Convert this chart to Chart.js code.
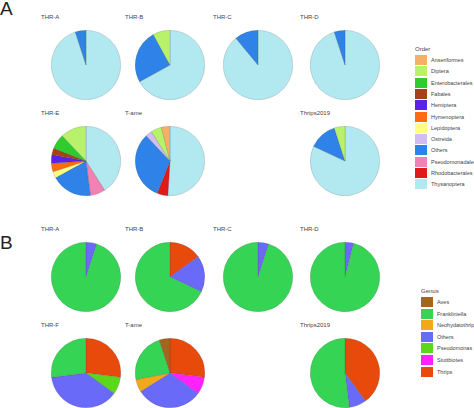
<!DOCTYPE html>
<html><head><meta charset="utf-8">
<script src="https://cdn.jsdelivr.net/npm/chart.js@4"></script>
<style>
body{margin:0;width:474px;height:408px;background:#fff;font-family:"Liberation Sans",Arial,sans-serif;position:relative;overflow:hidden}
.t{position:absolute;font-size:6px;color:#444}
.L{position:absolute;font-size:19px;color:#222}
canvas{position:absolute}
.lg{position:absolute;font-size:5.5px;color:#444}
.sw{position:absolute;width:12px;height:10px}
</style></head><body>
<div class="L" style="left:0;top:-2px">A</div>
<div class="L" style="left:0;top:232px">B</div>
<script>
const orders=["Anseriformes","Diptera","Enterobacterales","Fabales","Hemiptera","Hymenoptera","Lepidoptera","Ostreida","Others","Pseudomonadales","Rhodobacterales","Thysanoptera"];
const orderColors=["#F4B066","#B8F26A","#2ECC2E","#A4421A","#5A22E6","#FF6A12","#FFFF82","#D2BCF2","#2F82E8","#F282B4","#E01A1A","#B2E8F0"];
const genera=["Aves","Frankliniella","Neohydatothrips","Others","Pseudomonas","Stuttbiotes","Thrips"];
const genusColors=["#A2661C","#35D455","#F2A81A","#6A6AF8","#5CD81C","#FF22FF","#E84A0C"];
const samplesA=["THR-A","THR-B","THR-C","THR-D","THR-E","T-ame","Thrips2019"];
const samplesB=["THR-A","THR-B","THR-C","THR-D","THR-F","T-ame","Thrips2019"];
// values in legend order
const valuesA=[
 [0,0,0,0,0,0,0,0,5,0,0,95],
 [0,8,0,0,0,0,0,0,25,0,0,67],
 [0,0,0,0,0,0,0,0,11,0,0,89],
 [0,0,0,0,0,0,0,0,5,0,0,95],
 [0,12,7,3,4,4,3,0,19,7,0,41],
 [4,5,0,0,0,0,0,3,32,0,5,51],
 [0,5,0,0,0,0,0,0,13,0,0,82]
];
const valuesB=[
 [0,95,0,5,0,0,0],
 [0,68,0,17,0,0,15],
 [0,95,0,5,0,0,0],
 [0,96,0,4,0,0,0],
 [0,27,0,38,8,0,27],
 [5,23,6,31,0,8,27],
 [0,52,0,8,0,0,40]
];
const cx=[86,170,258,345,86,170,345], cyA=[65,65,65,65,161,161,161], cyB=[277,277,277,277,373,373,373];
const R=34;
function pie(x,y,vals,cols,title){
  const c=document.createElement('canvas');
  c.width=2*R+2;c.height=2*R+2;
  c.style.left=(x-R-1)+'px';c.style.top=(y-R-1)+'px';
  document.body.appendChild(c);
  const t=document.createElement('div');t.className='t';t.textContent=title;
  t.style.left=(x-R-11)+'px';t.style.top=(y-R-17)+'px';document.body.appendChild(t);
  new Chart(c,{type:'pie',data:{labels:cols.map((_,i)=>i),datasets:[{data:vals.slice().reverse(),backgroundColor:cols.slice().reverse(),borderColor:'rgba(60,60,60,0.35)',borderWidth:0.5}]},
   options:{responsive:false,animation:false,layout:{padding:0},plugins:{legend:{display:false},tooltip:{enabled:false}}}});
}
samplesA.forEach((s,i)=>pie(cx[i],cyA[i],valuesA[i],orderColors,s));
samplesB.forEach((s,i)=>pie(cx[i],cyB[i],valuesB[i],genusColors,s));
function legend(x,y,title,names,cols,step){
  const t=document.createElement('div');t.className='lg';t.style.fontSize='6px';t.textContent=title;t.style.left=x+'px';t.style.top=(y-9)+'px';document.body.appendChild(t);
  names.forEach((n,i)=>{
    const s=document.createElement('div');s.className='sw';s.style.background=cols[i];s.style.left=x+'px';s.style.top=(y+i*step)+'px';document.body.appendChild(s);
    const l=document.createElement('div');l.className='lg';l.textContent=n;l.style.left=(x+16)+'px';l.style.top=(y+i*step+2)+'px';document.body.appendChild(l);
  });
}
legend(415,55,"Order",orders,orderColors,11.3);
legend(421,297,"Genus",genera,genusColors,11.6);
</script>
</body></html>
